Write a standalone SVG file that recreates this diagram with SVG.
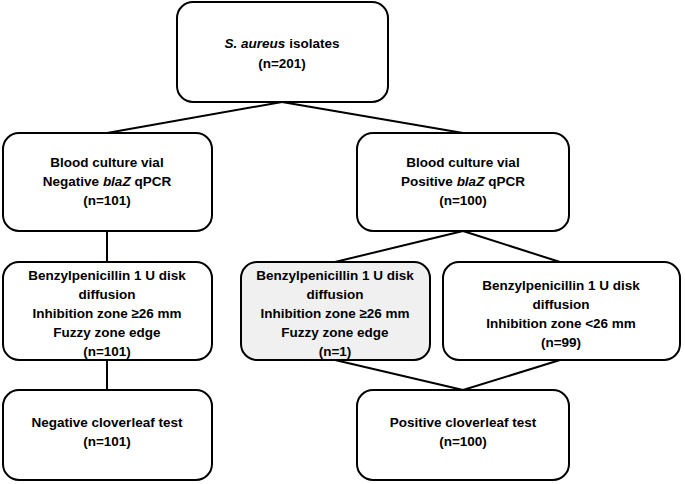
<svg xmlns="http://www.w3.org/2000/svg" width="685" height="484" viewBox="0 0 685 484">
<style>
.b{fill:#fff;stroke:#000;stroke-width:2}
.g{fill:#f0f0f0;stroke:#000;stroke-width:2}
text{font-family:"Liberation Sans",Arial,sans-serif;font-weight:bold;font-size:13.5px;text-anchor:middle;fill:#000}
.c line{stroke:#000;stroke-width:2}
</style>
<rect width="685" height="484" fill="#fff"/>
<g class="c" id="connectors">
<line x1="282" y1="102" x2="107" y2="133"/>
<line x1="282" y1="102" x2="463" y2="133"/>
<line x1="107" y1="231" x2="107" y2="262"/>
<line x1="107" y1="360" x2="107" y2="390"/>
<line x1="463" y1="231" x2="335" y2="262"/>
<line x1="463" y1="231" x2="560" y2="262"/>
<line x1="335" y1="360" x2="463" y2="390"/>
<line x1="560" y1="360" x2="463" y2="390"/>
</g>
<g id="n1"><rect class="b" x="177" y="2" width="211" height="100" rx="16"/>
<text x="282" y="48"><tspan font-style="italic">S. aureus</tspan> isolates</text><text x="282" y="68">(n=201)</text></g>
<g id="n2"><rect class="b" x="3" y="133" width="209" height="98" rx="16"/>
<text x="107" y="167">Blood culture vial</text><text x="107" y="186">Negative <tspan font-style="italic">blaZ</tspan> qPCR</text><text x="107" y="205">(n=101)</text></g>
<g id="n3"><rect class="b" x="357" y="133" width="212" height="98" rx="16"/>
<text x="463" y="167">Blood culture vial</text><text x="463" y="186">Positive <tspan font-style="italic">blaZ</tspan> qPCR</text><text x="463" y="205">(n=100)</text></g>
<g id="n4"><rect class="b" x="3" y="262" width="209" height="98" rx="16"/>
<text x="107" y="280">Benzylpenicillin 1 U disk</text><text x="107" y="299">diffusion</text><text x="107" y="318">Inhibition zone ≥26 mm</text><text x="107" y="337">Fuzzy zone edge</text><text x="107" y="356">(n=101)</text></g>
<g id="n5"><rect class="g" x="241" y="262" width="189" height="98" rx="16"/>
<text x="335" y="280">Benzylpenicillin 1 U disk</text><text x="335" y="299">diffusion</text><text x="335" y="318">Inhibition zone ≥26 mm</text><text x="335" y="337">Fuzzy zone edge</text><text x="335" y="356">(n=1)</text></g>
<g id="n6"><rect class="b" x="443" y="262" width="237" height="98" rx="16"/>
<text x="561" y="290">Benzylpenicillin 1 U disk</text><text x="561" y="309">diffusion</text><text x="561" y="328">Inhibition zone &lt;26 mm</text><text x="561" y="347">(n=99)</text></g>
<g id="n7"><rect class="b" x="3" y="390" width="209" height="90" rx="16"/>
<text x="107" y="427">Negative cloverleaf test</text><text x="107" y="446">(n=101)</text></g>
<g id="n8"><rect class="b" x="357" y="390" width="212" height="90" rx="16"/>
<text x="463" y="427">Positive cloverleaf test</text><text x="463" y="446">(n=100)</text></g>
</svg>
